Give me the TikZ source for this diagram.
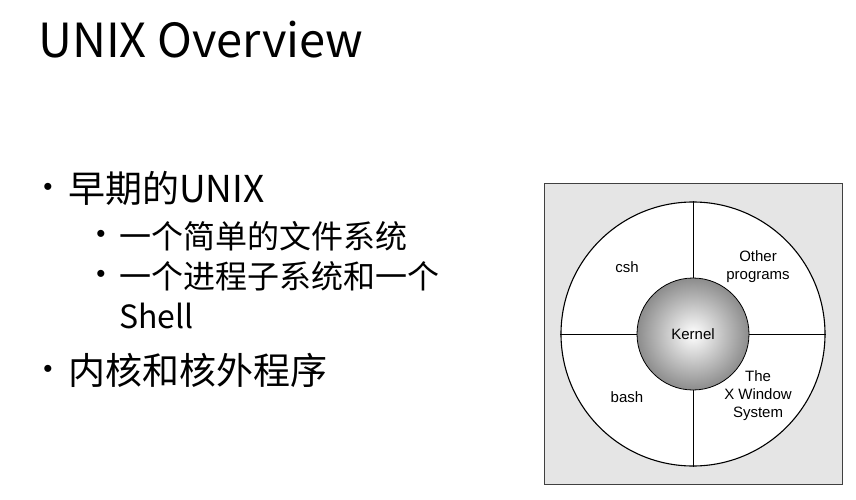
\documentclass[tikz,border=0pt]{standalone}
\usepackage{fontspec}
\setmainfont{Noto Sans CJK SC}
\newfontfamily\dia{Liberation Sans}
\begin{document}
\begin{tikzpicture}[x=1pt,y=-1pt,
  tl/.style={anchor=base west,inner sep=0pt,font=\fontsize{47}{52}\selectfont},
  b1/.style={anchor=west,inner sep=0pt,font=\fontsize{37}{42}\selectfont},
  b2/.style={anchor=west,inner sep=0pt,font=\fontsize{32}{38}\selectfont},
  bu/.style={anchor=center,inner sep=0pt,font=\dia\fontsize{26}{30}\selectfont},
  lb/.style={align=center,inner sep=0pt,font=\dia\fontsize{15}{18}\selectfont}]
\useasboundingbox (0,0) rectangle (856,500);
\fill[white] (0,0) rectangle (856,500);
\node[tl] (title) at (38,58) {UNIX Overview};
\node[bu] (d1) at (48,189) {•};
\node[b1] (i1) at (68,188) {早期的UNIX};
\node[bu] (d2) at (101,236) {•};
\node[b2] (i2) at (119,236) {一个简单的文件系统};
\node[bu] (d3) at (101,276) {•};
\node[b2] (i3) at (119,276) {一个进程子系统和一个};
\node[b2] (i3b) at (119,316) {Shell};
\node[bu] (d4) at (48,371) {•};
\node[b1] (i4) at (68,370) {内核和核外程序};
\draw[fill=black!10,draw=black!75,line width=0.8pt] (544,183) rectangle (842,484);
\node[circle,draw,line width=1.1pt,fill=white,minimum size=264pt,inner sep=0pt] (outer) at (693,334) {};
\draw (outer.north) -- (outer.south);
\draw (outer.west) -- (outer.east);
\node[circle,draw,line width=0.8pt,inner color=white,outer color=black!45,minimum size=112pt,inner sep=0pt,font=\dia\fontsize{15}{18}\selectfont] (kernel) at (693,334) {Kernel};
\node[lb] (csh) at (627,267) {csh};
\node[lb] (oth) at (758,267) {Other\\programs};
\node[lb] (bash) at (627,397) {bash};
\node[lb] (xw) at (758,396) {The\\X Window\\System};
\end{tikzpicture}
\end{document}
